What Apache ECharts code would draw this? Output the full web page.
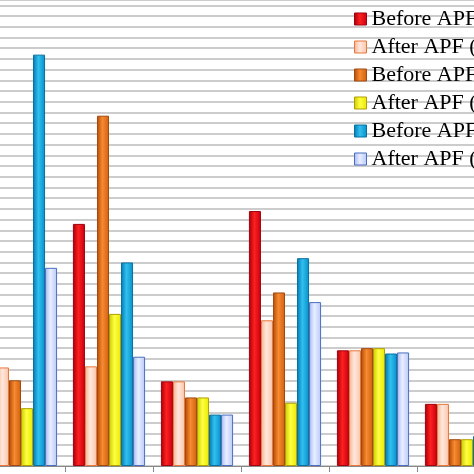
<!DOCTYPE html><html><head><meta charset="utf-8"><script src="https://cdn.jsdelivr.net/npm/echarts@6/dist/echarts.min.js"></script>
<style>html,body{margin:0;padding:0;background:#fff;overflow:hidden;width:474px;height:474px;position:relative}#c{position:absolute;left:-23px;top:0;width:528px;height:474px}</style></head><body><div id="c"></div><script>
const categories=['1','2','3','4','5','6'];
const seriesNames=['Before APF (a)','After APF (a)','Before APF (b)','After APF (b)','Before APF (c)','After APF (c)'];
const s1=[9.5,22.6,7.9,23.8,10.8,5.8];
const s2=[9.2,9.3,7.9,13.6,10.8,5.8];
const s3=[8.0,32.7,6.4,16.2,11.0,2.5];
const s4=[5.4,14.2,6.4,5.9,11.0,2.5];
const s5=[38.4,19.0,4.8,19.4,10.5,2.8];
const s6=[18.5,10.2,4.8,15.3,10.6,2.8];
const data=[s1,s2,s3,s4,s5,s6];
const styles=[
 {c:['#a00008','#ff2020','#c80010'],b:'#a00010'},
 {c:['#f8b090','#ffe8dc','#fbc4a8'],b:'#e8773a'},
 {c:['#b04a08','#f88a30','#d06010'],b:'#a04a10'},
 {c:['#c8c800','#ffff40','#e8e800'],b:'#b0a000'},
 {c:['#0478b0','#30c0f0','#0890c8'],b:'#0870a0'},
 {c:['#a8b8f0','#e8eeff','#b8c8f8'],b:'#4a6fc0'}];
const grad=s=>new echarts.graphic.LinearGradient(0,0,1,0,[{offset:0,color:s.c[0]},{offset:0.45,color:s.c[1]},{offset:1,color:s.c[2]}]);
const chart=echarts.init(document.getElementById('c'));
chart.setOption({animation:false,
 grid:{left:0,right:0,top:0,bottom:8},
 legend:{orient:'vertical',left:372,top:2,icon:'rect',itemWidth:12,itemHeight:12,itemGap:4,
  textStyle:{fontFamily:'Liberation Serif',fontSize:22,lineHeight:24,color:'#000'},
  data:seriesNames.map((n,i)=>({name:n,itemStyle:{color:grad(styles[i]),borderColor:styles[i].b,borderWidth:1}}))},
 xAxis:{type:'category',data:categories,axisLabel:{show:false},
  axisLine:{lineStyle:{color:'#888'}},axisTick:{show:true,length:6,lineStyle:{color:'#888'}}},
 yAxis:{type:'value',min:0,max:43.5,interval:1,axisLabel:{show:false},axisLine:{show:false},axisTick:{show:false},
  splitLine:{lineStyle:{color:'#bbb',width:1.5}}},
 series:data.map((d,i)=>({name:seriesNames[i],type:'bar',data:d,barGap:'0%',barCategoryGap:'18%',
  itemStyle:{color:grad(styles[i]),borderColor:styles[i].b,borderWidth:1}}))
});
</script></body></html>
